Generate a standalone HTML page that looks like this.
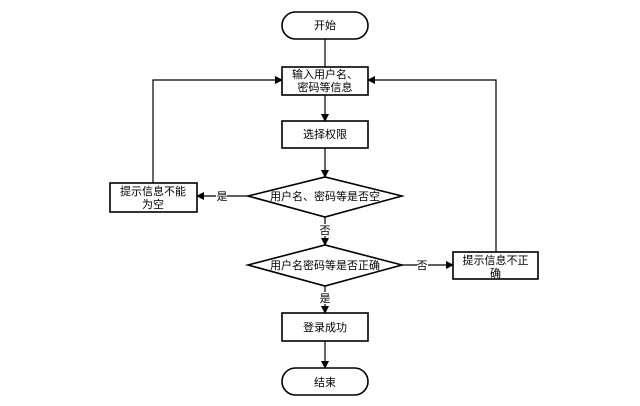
<!DOCTYPE html>
<html><head><meta charset="utf-8"><style>
html,body{margin:0;padding:0;background:#fff;}
svg{display:block}
text{font-family:"Liberation Serif","Noto Sans CJK SC",serif;font-size:11px;fill:#000}
</style></head><body>
<svg width="640" height="406" viewBox="0 0 640 406" xmlns="http://www.w3.org/2000/svg">
<defs><marker id="a" markerWidth="8" markerHeight="8" refX="7" refY="4" orient="auto" markerUnits="userSpaceOnUse"><path d="M0,0 L8,4 L0,8 z" fill="#000"/></marker></defs>
<g fill="#fff" stroke="#000" stroke-width="1.6">
<rect x="282" y="12" width="86" height="27" rx="13.5"/>
<rect x="282" y="67" width="86" height="28"/>
<rect x="282" y="121" width="86" height="27"/>
<polygon points="248,196 325,177 402,196 325,217"/>
<rect x="110" y="183" width="87" height="29"/>
<polygon points="248,265 325,245 402,265 325,286"/>
<rect x="453" y="252" width="85" height="27"/>
<rect x="282" y="313" width="86" height="28"/>
<rect x="282" y="368" width="86" height="27" rx="13.5"/>
</g>
<g stroke="#000" stroke-width="1.2" fill="none">
<line x1="325" y1="39" x2="325" y2="67"/>
<line x1="325" y1="95" x2="325" y2="121" marker-end="url(#a)"/>
<line x1="325" y1="148" x2="325" y2="177" marker-end="url(#a)"/>
<line x1="248" y1="196" x2="197" y2="196" marker-end="url(#a)"/>
<polyline points="153,183 153,80 282,80" marker-end="url(#a)"/>
<line x1="325" y1="217" x2="325" y2="245" marker-end="url(#a)"/>
<line x1="402" y1="265" x2="453" y2="265" marker-end="url(#a)"/>
<polyline points="496,252 496,80 368,80" marker-end="url(#a)"/>
<line x1="325" y1="286" x2="325" y2="313" marker-end="url(#a)"/>
<line x1="325" y1="341" x2="325" y2="368" marker-end="url(#a)"/>
</g>
<g fill="#fff">
<rect x="216" y="190" width="11" height="12"/>
<rect x="319" y="224" width="11" height="12"/>
<rect x="417" y="259" width="11" height="12"/>
<rect x="319" y="292" width="11" height="12"/>
</g>
<g text-anchor="middle">
<text x="325" y="29">开始</text>
<text x="325" y="78">输入用户名、</text>
<text x="325" y="91">密码等信息</text>
<text x="325" y="138">选择权限</text>
<text x="325" y="200">用户名、密码等是否空</text>
<text x="153" y="195">提示信息不能</text>
<text x="153" y="208">为空</text>
<text x="222" y="200" font-size="9">是</text>
<text x="325" y="234" font-size="9">否</text>
<text x="325" y="269">用户名密码等是否正确</text>
<text x="422" y="269" font-size="9">否</text>
<text x="495.5" y="264">提示信息不正</text>
<text x="495.5" y="277">确</text>
<text x="325" y="302" font-size="9">是</text>
<text x="325" y="331">登录成功</text>
<text x="325" y="386">结束</text>
</g>
</svg>
</body></html>
